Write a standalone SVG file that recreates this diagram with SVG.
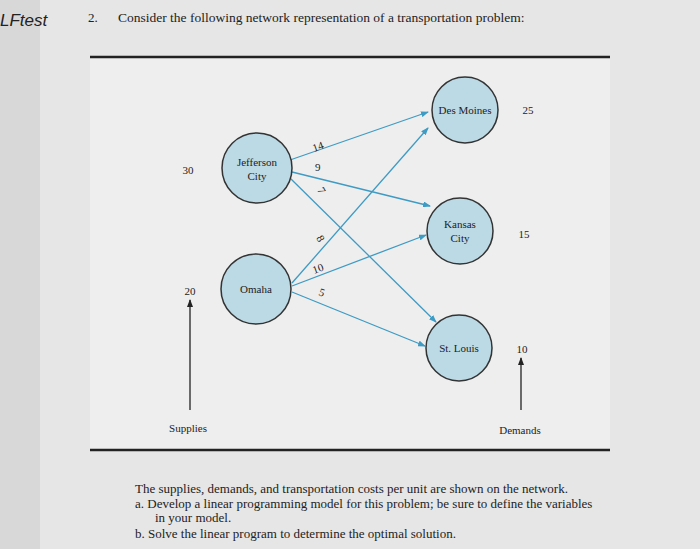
<svg xmlns="http://www.w3.org/2000/svg" width="700" height="549" viewBox="0 0 700 549">
<defs>
<marker id="ah" markerWidth="8" markerHeight="6" refX="7" refY="3" orient="auto" markerUnits="userSpaceOnUse"><path d="M0,0 L8,3 L0,6 z" fill="#3d9bc4"/></marker>
<marker id="bk" markerWidth="8" markerHeight="6" refX="7" refY="3" orient="auto" markerUnits="userSpaceOnUse"><path d="M0,0 L8,3 L0,6 z" fill="#222"/></marker>
</defs>
<style>
text{font-family:"Liberation Serif",serif;fill:#222}
.n{fill:#bcd9e6;stroke:#333;stroke-width:1.5}
.c{stroke:#3d9bc4;stroke-width:1.3;fill:none;marker-end:url(#ah)}
.s{font-size:11px;text-anchor:middle}
.l{font-size:11px}
.b{font-size:13px}
</style>
<rect width="700" height="549" fill="#e6e6e6"/>
<rect x="0" y="0" width="40" height="549" fill="#d8d8d8"/>
<rect x="90" y="57" width="520" height="393" fill="#eeeeee"/>
<line x1="90" y1="57" x2="610" y2="57" stroke="#222" stroke-width="2.5"/>
<line x1="90" y1="450" x2="610" y2="450" stroke="#222" stroke-width="2.5"/>
<text x="0" y="26" font-size="17" font-style="italic" style="font-family:'Liberation Sans',sans-serif">LFtest</text>
<text x="88" y="22" font-size="13">2.</text>
<text x="118" y="22" font-size="13.5">Consider the following network representation of a transportation problem:</text>
<g id="connectors">
<line class="c" x1="290" y1="160" x2="428" y2="112"/>
<line class="c" x1="292" y1="172" x2="430" y2="206"/>
<line class="c" x1="290" y1="178" x2="436" y2="322"/>
<line class="c" x1="292" y1="283" x2="428" y2="128"/>
<line class="c" x1="292" y1="286" x2="426" y2="235"/>
<line class="c" x1="292" y1="292" x2="425" y2="346"/>
<text class="l" x="0" y="0" transform="translate(314,152) rotate(-20)">14</text>
<text class="l" x="315" y="171">9</text>
<text class="l" x="0" y="0" transform="translate(317,190) rotate(60)">7</text>
<text class="l" x="0" y="0" transform="translate(316,238) rotate(60)">8</text>
<text class="l" x="0" y="0" transform="translate(314,274) rotate(-20)">10</text>
<text class="l" x="0" y="0" transform="translate(318,295) rotate(20)">5</text>
</g>
<g id="jefferson"><circle class="n" cx="257" cy="168" r="35"/><text class="s" x="257" y="166">Jefferson</text><text class="s" x="257" y="180">City</text></g>
<g id="omaha"><circle class="n" cx="256" cy="289" r="35"/><text class="s" x="256" y="293">Omaha</text></g>
<g id="desmoines"><circle class="n" cx="465" cy="110" r="33"/><text class="s" x="465" y="114">Des Moines</text></g>
<g id="kansas"><circle class="n" cx="460" cy="231" r="33"/><text class="s" x="460" y="228">Kansas</text><text class="s" x="460" y="242">City</text></g>
<g id="stlouis"><circle class="n" cx="459" cy="348" r="33"/><text class="s" x="459" y="352">St. Louis</text></g>
<text class="s" x="188" y="174">30</text>
<text class="s" x="190" y="295">20</text>
<text class="s" x="528" y="114">25</text>
<text class="s" x="524" y="238">15</text>
<text class="s" x="522" y="353">10</text>
<line x1="190" y1="410" x2="190" y2="300" stroke="#222" stroke-width="1.3" marker-end="url(#bk)"/>
<line x1="521" y1="410" x2="521" y2="358" stroke="#222" stroke-width="1.3" marker-end="url(#bk)"/>
<text class="s" x="188" y="432">Supplies</text>
<text class="s" x="520" y="434">Demands</text>
<text class="b" x="135" y="493">The supplies, demands, and transportation costs per unit are shown on the network.</text>
<text class="b" x="135" y="508">a.  Develop a linear programming model for this problem; be sure to define the variables</text>
<text class="b" x="155" y="522">in your model.</text>
<text class="b" x="135" y="538">b.  Solve the linear program to determine the optimal solution.</text>
</svg>
